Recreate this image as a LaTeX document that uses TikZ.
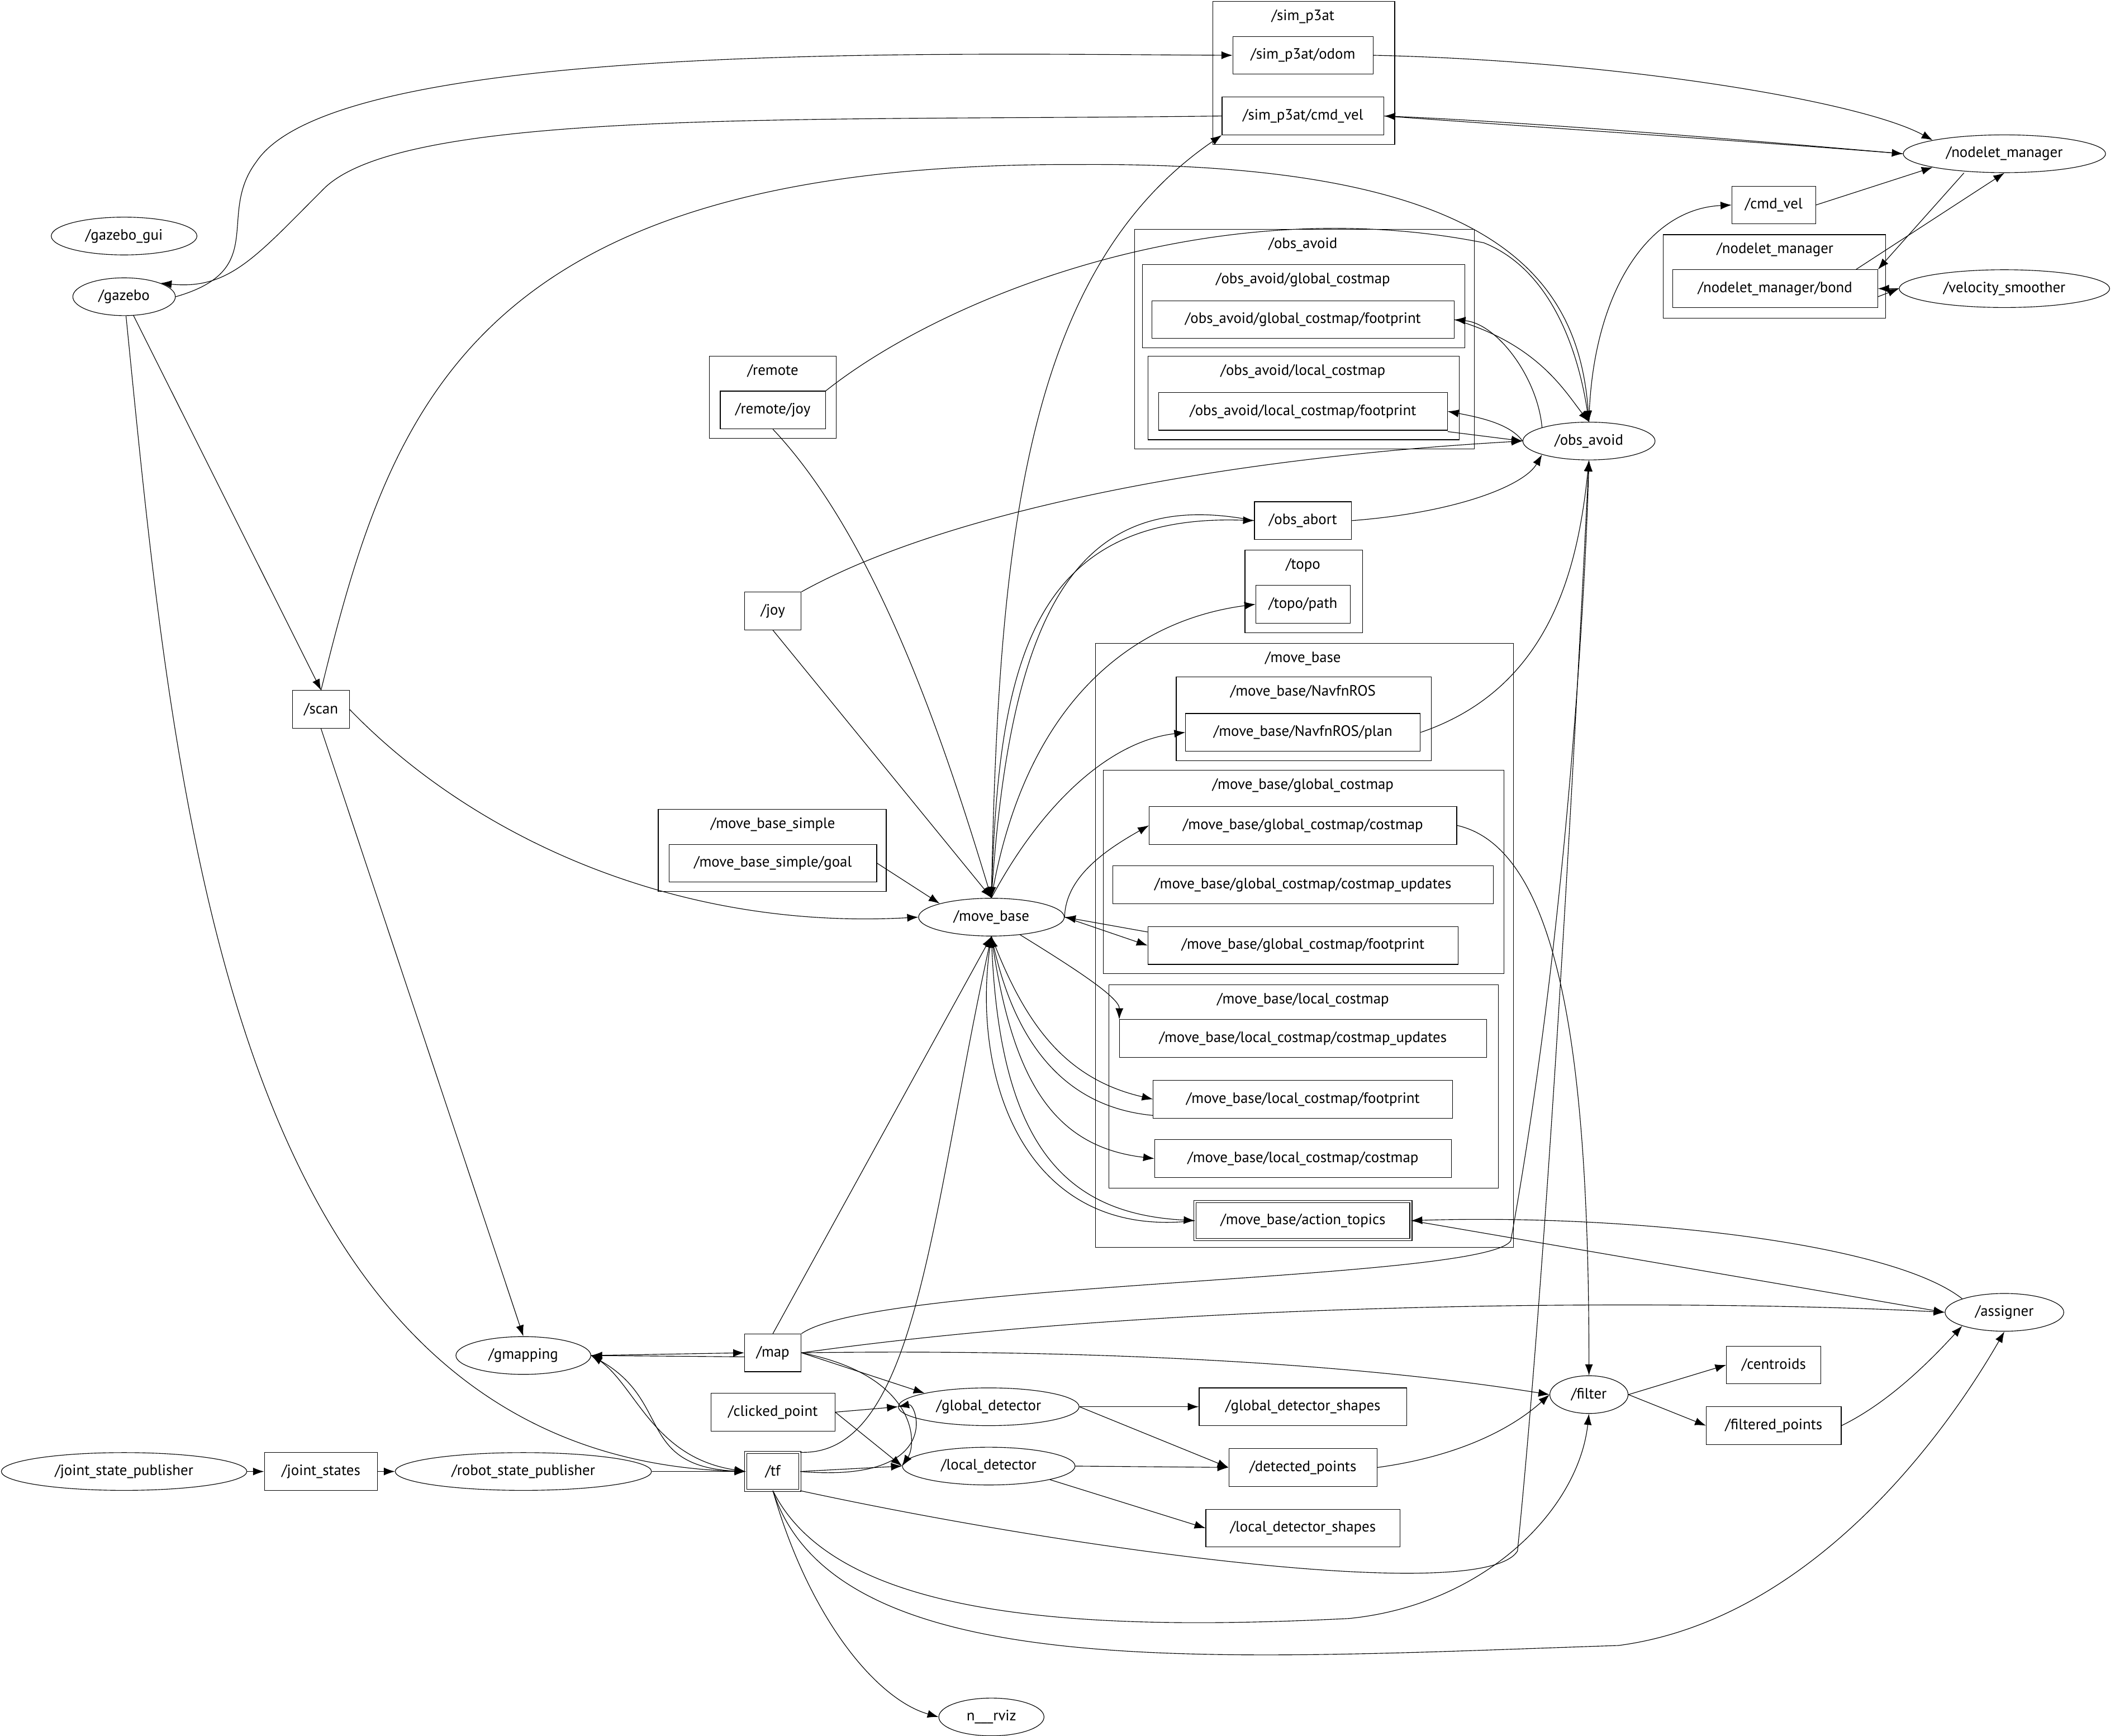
\documentclass[tikz,border=0pt]{standalone}
\usepackage{fontspec}
\setmainfont{PT Sans}
\usetikzlibrary{arrows.meta,shapes.geometric,positioning}
\tikzset{
  rosnode/.style={draw, ellipse, minimum height=0.84cm, inner sep=0pt, font=\fontsize{9.5}{10}\selectfont},
  topic/.style={draw, rectangle, minimum height=0.84cm, inner sep=0pt, font=\fontsize{9.5}{10}\selectfont},
  cluster/.style={draw},
  clab/.style={font=\fontsize{9.5}{10}\selectfont, anchor=north},
  edge/.style={-{Latex[length=7pt,width=5pt]}, thin},
}
\begin{document}
\begin{tikzpicture}[x=0.03cm, y=-0.03cm]
  \useasboundingbox (0,0) rectangle (1568,1287);
  % clusters
  \draw[cluster] (899,1) rectangle (1034,107);      \node[clab] at (966,3) {/sim\_p3at};
  \draw[cluster] (1233,174) rectangle (1398,236);   \node[clab] at (1316,176) {/nodelet\_manager};
  \draw[cluster] (841,170) rectangle (1093,333);    \node[clab] at (966,172) {/obs\_avoid};
  \draw[cluster] (847,196) rectangle (1086,258);    \node[clab] at (966,198) {/obs\_avoid/global\_costmap};
  \draw[cluster] (851,264) rectangle (1082,326);    \node[clab] at (966,266) {/obs\_avoid/local\_costmap};
  \draw[cluster] (526,264) rectangle (620,325);     \node[clab] at (573,266) {/remote};
  \draw[cluster] (923,408) rectangle (1010,469);    \node[clab] at (966,410) {/topo};
  \draw[cluster] (812,477) rectangle (1122,925);    \node[clab] at (966,479) {/move\_base};
  \draw[cluster] (872,502) rectangle (1061,564);    \node[clab] at (966,504) {/move\_base/NavfnROS};
  \draw[cluster] (818,571) rectangle (1115,722);    \node[clab] at (966,573) {/move\_base/global\_costmap};
  \draw[cluster] (822,730) rectangle (1111,881);    \node[clab] at (966,732) {/move\_base/local\_costmap};
  \draw[cluster] (488,600) rectangle (657,661);     \node[clab] at (573,602) {/move\_base\_simple};

  % ros nodes
  \node[rosnode, minimum width=3.24cm] (gzgui) at (92,175) {/gazebo\_gui};
  \node[rosnode, minimum width=2.28cm] (gazebo) at (92,220) {/gazebo};
  \node[rosnode, minimum width=4.5cm] (nodelet) at (1486,114) {/nodelet\_manager};
  \node[rosnode, minimum width=4.68cm] (velsmooth) at (1486,214) {/velocity\_smoother};
  \node[rosnode, minimum width=2.94cm] (obsavoid) at (1178,327) {/obs\_avoid};
  \node[rosnode, minimum width=3.24cm] (movebase) at (735,680) {/move\_base};
  \node[rosnode, minimum width=2.64cm] (assigner) at (1486,973) {/assigner};
  \node[rosnode, minimum width=3cm] (gmapping) at (388,1005) {/gmapping};
  \node[rosnode, minimum width=4.02cm] (gdet) at (733,1043) {/global\_detector};
  \node[rosnode, minimum width=3.84cm] (ldet) at (733,1087) {/local\_detector};
  \node[rosnode, minimum width=5.46cm] (jsp) at (92,1091) {/joint\_state\_publisher};
  \node[rosnode, minimum width=5.7cm] (rsp) at (388,1091) {/robot\_state\_publisher};
  \node[rosnode, minimum width=1.74cm] (filter) at (1178,1034) {/filter};
  \node[rosnode, minimum width=2.34cm] (rviz) at (735,1273) {n\_\_\_rviz};

  % topics
  \node[topic, minimum width=3.12cm] (odom) at (966,41) {/sim\_p3at/odom};
  \node[topic, minimum width=3.6cm] (simcmd) at (966,86) {/sim\_p3at/cmd\_vel};
  \node[topic, minimum width=1.86cm] (cmdvel) at (1315,152) {/cmd\_vel};
  \node[topic, minimum width=4.56cm] (bond) at (1316,214) {/nodelet\_manager/bond};
  \node[topic, minimum width=6.72cm] (oagfp) at (966,237) {/obs\_avoid/global\_costmap/footprint};
  \node[topic, minimum width=6.42cm] (oalfp) at (966,305) {/obs\_avoid/local\_costmap/footprint};
  \node[topic, minimum width=2.34cm] (rjoy) at (573,304) {/remote/joy};
  \node[topic, minimum width=2.16cm] (obsabort) at (966,386) {/obs\_abort};
  \node[topic, minimum width=2.1cm] (topopath) at (966,448) {/topo/path};
  \node[topic, minimum width=1.26cm] (joy) at (573,453) {/joy};
  \node[topic, minimum width=1.26cm] (scan) at (238,526) {/scan};
  \node[topic, minimum width=5.22cm] (plan) at (966,543) {/move\_base/NavfnROS/plan};
  \node[topic, minimum width=6.84cm] (gcost) at (966,612) {/move\_base/global\_costmap/costmap};
  \node[topic, minimum width=8.46cm] (gupd) at (966,656) {/move\_base/global\_costmap/costmap\_updates};
  \node[topic, minimum width=6.9cm] (gfp) at (966,701) {/move\_base/global\_costmap/footprint};
  \node[topic, minimum width=8.16cm] (lupd) at (966,770) {/move\_base/local\_costmap/costmap\_updates};
  \node[topic, minimum width=6.66cm] (lfp) at (966,815) {/move\_base/local\_costmap/footprint};
  \node[topic, minimum width=6.6cm] (lcost) at (966,859) {/move\_base/local\_costmap/costmap};
  \node[topic, minimum width=4.8cm, double, double distance=1pt] (action) at (966,905) {/move\_base/action\_topics};
  \node[topic, minimum width=4.62cm] (goal) at (573,640) {/move\_base\_simple/goal};
  \node[topic, minimum width=1.26cm] (map) at (573,1003) {/map};
  \node[topic, minimum width=2.76cm] (clicked) at (573,1047) {/clicked\_point};
  \node[topic, minimum width=1.2cm, double, double distance=1pt] (tf) at (573,1091) {/tf};
  \node[topic, minimum width=2.52cm] (jstates) at (238,1091) {/joint\_states};
  \node[topic, minimum width=4.62cm] (gshapes) at (966,1043) {/global\_detector\_shapes};
  \node[topic, minimum width=3.3cm] (detpts) at (966,1088) {/detected\_points};
  \node[topic, minimum width=4.32cm] (lshapes) at (966,1133) {/local\_detector\_shapes};
  \node[topic, minimum width=2.1cm] (centroids) at (1315,1012) {/centroids};
  \node[topic, minimum width=3cm] (fpts) at (1315,1057) {/filtered\_points};

  % connectors
  \draw[edge] (gazebo.east) .. controls (200,200) and (160,160) .. (190,120) .. controls (250,30) and (700,40) .. (odom.west);
  \draw[edge] (simcmd.west) .. controls (600,90) and (300,80) .. (240,140) .. controls (190,190) and (170,215) .. (gazebo.north east);
  \draw[edge] (odom.east) .. controls (1200,45) and (1380,75) .. (nodelet.north west);
  \draw[edge] (nodelet.west) .. controls (1250,100) and (1120,90) .. (simcmd.east);
  \draw[edge] (simcmd.east) .. controls (1150,95) and (1300,105) .. (nodelet.west);
  \draw[edge] (cmdvel.east) -- (nodelet.south west);
  \draw[edge] (nodelet.south) ++(-30,0) -- (bond.north east);
  \draw[edge] (bond.north) ++(60,0) -- (nodelet.south);
  \draw[edge] (velsmooth.west) -- (bond.east);
  \draw[edge] (bond.east) ++(0,6) -- (velsmooth.west);
  \draw[edge] (obsavoid.north) .. controls (1180,220) and (1220,155) .. (cmdvel.west);
  \draw[edge] (gazebo) -- (scan.north);
  \draw[edge] (gazebo) .. controls (130,600) and (170,1080) .. (tf.west);
  \draw[edge] (scan.north) .. controls (290,300) and (350,120) .. (800,122) .. controls (1100,120) and (1170,200) .. (obsavoid.north);
  \draw[edge] (scan.east) .. controls (350,620) and (500,690) .. (movebase.west);
  \draw[edge] (scan.south) -- (gmapping.north);
  \draw[edge] (rjoy.north east) .. controls (700,220) and (900,140) .. (1100,180) .. controls (1150,200) and (1170,260) .. (obsavoid.north);
  \draw[edge] (rjoy.south) .. controls (650,400) and (700,550) .. (movebase.north);
  \draw[edge] (joy.north east) .. controls (700,380) and (900,340) .. (obsavoid.west);
  \draw[edge] (joy.south) -- (movebase.north);
  \draw[edge] (movebase.north) .. controls (740,400) and (760,200) .. (simcmd.south west);
  \draw[edge] (obsavoid.north west) .. controls (1140,280) and (1110,240) .. (oagfp.east);
  \draw[edge] (oagfp.east) .. controls (1140,255) and (1160,290) .. (obsavoid.north);
  \draw[edge] (obsavoid.west) .. controls (1120,315) and (1100,310) .. (oalfp.east);
  \draw[edge] (oalfp.east) ++(0,15) -- (obsavoid.west);
  \draw[edge] (movebase.north) .. controls (740,500) and (760,380) .. (obsabort.west);
  \draw[edge] (obsabort.west) .. controls (800,360) and (750,450) .. (movebase.north);
  \draw[edge] (obsabort.east) .. controls (1080,380) and (1130,360) .. (obsavoid.south west);
  \draw[edge] (movebase.north) .. controls (760,520) and (840,460) .. (topopath.west);
  \draw[edge] (movebase.north) .. controls (770,600) and (820,550) .. (plan.west);
  \draw[edge] (plan.east) .. controls (1150,510) and (1170,420) .. (obsavoid.south);
  \draw[edge] (movebase.east) .. controls (790,650) and (820,630) .. (gcost.west);
  \draw[edge] (movebase.east) -- (gfp.west);
  \draw[edge] (gfp.west) ++(0,-10) -- (movebase.east);
  \draw[edge] (movebase) .. controls (800,720) and (830,740) .. (lupd.north west);
  \draw[edge] (movebase.south) .. controls (760,760) and (790,800) .. (lfp.west);
  \draw[edge] (lfp.west) ++(0,12) .. controls (780,820) and (750,760) .. (movebase.south);
  \draw[edge] (movebase.south) .. controls (750,800) and (780,850) .. (lcost.west);
  \draw[edge] (movebase.south) .. controls (740,850) and (790,900) .. (action.west);
  \draw[edge] (action.west) .. controls (760,920) and (720,800) .. (movebase.south);
  \draw[edge] (action.east) -- (assigner.west);
  \draw[edge] (assigner.north west) .. controls (1400,920) and (1200,900) .. (action.east);
  \draw[edge] (goal.east) -- (movebase.north west);
  \draw[edge] (gcost.east) .. controls (1160,630) and (1178,800) .. (filter.north);
  \draw[edge] (map.north) -- (movebase.south);
  \draw[edge] (map.north east) .. controls (650,950) and (1100,950) .. (1120,920) .. controls (1160,700) and (1175,450) .. (obsavoid.south);
  \draw[edge] (map.east) .. controls (900,960) and (1300,965) .. (assigner.west);
  \draw[edge] (map.east) .. controls (800,1000) and (1000,1010) .. (filter.west);
  \draw[edge] (map.east) -- (gdet.north west);
  \draw[edge] (map.east) .. controls (680,1020) and (680,1070) .. (ldet.west);
  \draw[edge] (gmapping.east) -- (map.west);
  \draw[edge] (map.west) ++(0,3) -- (gmapping.east);
  \draw[edge] (gmapping.east) .. controls (470,1020) and (480,1080) .. (tf.west);
  \draw[edge] (tf.west) .. controls (470,1090) and (500,1040) .. (gmapping.east);
  \draw[edge] (clicked.east) -- (gdet.west);
  \draw[edge] (clicked.east) -- (ldet.west);
  \draw[edge] (tf.north east) .. controls (680,1080) and (690,900) .. (movebase.south);
  \draw[edge] (tf.east) -- (ldet.west);
  \draw[edge] (tf.east) .. controls (700,1100) and (680,1040) .. (gdet.west);
  \draw[edge] (tf.south east) .. controls (800,1150) and (1100,1190) .. (1125,1150) .. controls (1150,900) and (1170,500) .. (obsavoid.south);
  \draw[edge] (tf.south) .. controls (620,1200) and (800,1210) .. (1000,1200) .. controls (1100,1190) and (1170,1120) .. (filter.south);
  \draw[edge] (tf.south) .. controls (620,1250) and (900,1230) .. (1200,1220) .. controls (1350,1200) and (1450,1050) .. (assigner.south);
  \draw[edge] (tf.south) .. controls (600,1200) and (650,1260) .. (rviz.west);
  \draw[edge] (jsp.east) -- (jstates.west);
  \draw[edge] (jstates.east) -- (rsp.west);
  \draw[edge] (rsp.east) -- (tf.west);
  \draw[edge] (gdet.east) -- (gshapes.west);
  \draw[edge] (gdet.east) -- (detpts.west);
  \draw[edge] (ldet.east) -- (detpts.west);
  \draw[edge] (ldet.south east) -- (lshapes.west);
  \draw[edge] (detpts.east) .. controls (1080,1080) and (1120,1060) .. (filter.west);
  \draw[edge] (filter.east) -- (centroids.west);
  \draw[edge] (filter.east) -- (fpts.west);
  \draw[edge] (fpts.east) .. controls (1400,1040) and (1430,1010) .. (assigner.south west);
\end{tikzpicture}
\end{document}
